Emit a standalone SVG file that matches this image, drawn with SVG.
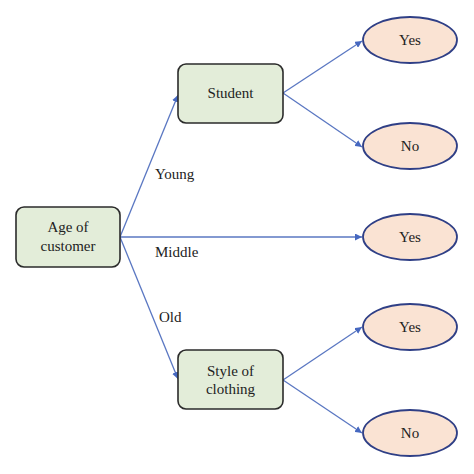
<svg xmlns="http://www.w3.org/2000/svg" width="474" height="474" viewBox="0 0 474 474">
<style>
.box{fill:#e3edd9;stroke:#2b2b2b;stroke-width:1.6}
.leaf{fill:#fae3d3;stroke:#2f3f86;stroke-width:1.8}
.t{font-size:15px;fill:#222;text-anchor:middle}
.l{font-size:15px;fill:#222}
.c{stroke:#5a77c2;stroke-width:1.3;fill:none;marker-end:url(#ah)}
</style>
<defs>
<marker id="ah" viewBox="0 0 10 10" refX="10" refY="5" markerWidth="7" markerHeight="7" orient="auto" markerUnits="userSpaceOnUse">
<path d="M0,0 L10,5 L0,10 z" fill="#4668c0"/>
</marker>
</defs>
<rect width="474" height="474" fill="#fff"/>
<g id="connectors">
<line class="c" x1="120" y1="237" x2="178" y2="95"/>
<line class="c" x1="120" y1="237" x2="362" y2="237"/>
<line class="c" x1="120" y1="237" x2="178" y2="379"/>
<line class="c" x1="283" y1="93" x2="362" y2="41"/>
<line class="c" x1="283" y1="93" x2="362" y2="147"/>
<line class="c" x1="283" y1="380" x2="362" y2="327"/>
<line class="c" x1="283" y1="380" x2="362" y2="433"/>
</g>
<g font-family="Liberation Serif, DejaVu Serif, serif">
<g id="labels">
<text class="l" x="155" y="179">Young</text>
<text class="l" x="155" y="257">Middle</text>
<text class="l" x="159" y="322">Old</text>
</g>
<g id="age">
<rect class="box" x="16" y="207" width="104" height="60" rx="8"/>
<text class="t" x="68" y="232">Age of</text>
<text class="t" x="68" y="251">customer</text>
</g>
<g id="student">
<rect class="box" x="178" y="64" width="105" height="59" rx="8"/>
<text class="t" x="230.5" y="98">Student</text>
</g>
<g id="style">
<rect class="box" x="178" y="350" width="105" height="59" rx="8"/>
<text class="t" x="230.5" y="376">Style of</text>
<text class="t" x="230.5" y="394">clothing</text>
</g>
<g id="yes1">
<ellipse class="leaf" cx="410" cy="40" rx="47" ry="23"/>
<text class="t" x="410" y="45">Yes</text>
</g>
<g id="no1">
<ellipse class="leaf" cx="410" cy="146" rx="47" ry="23"/>
<text class="t" x="410" y="151">No</text>
</g>
<g id="yes2">
<ellipse class="leaf" cx="410" cy="237" rx="47" ry="23"/>
<text class="t" x="410" y="242">Yes</text>
</g>
<g id="yes3">
<ellipse class="leaf" cx="410" cy="327" rx="47" ry="23"/>
<text class="t" x="410" y="332">Yes</text>
</g>
<g id="no2">
<ellipse class="leaf" cx="410" cy="433" rx="47" ry="23"/>
<text class="t" x="410" y="438">No</text>
</g>
</g>
</svg>
